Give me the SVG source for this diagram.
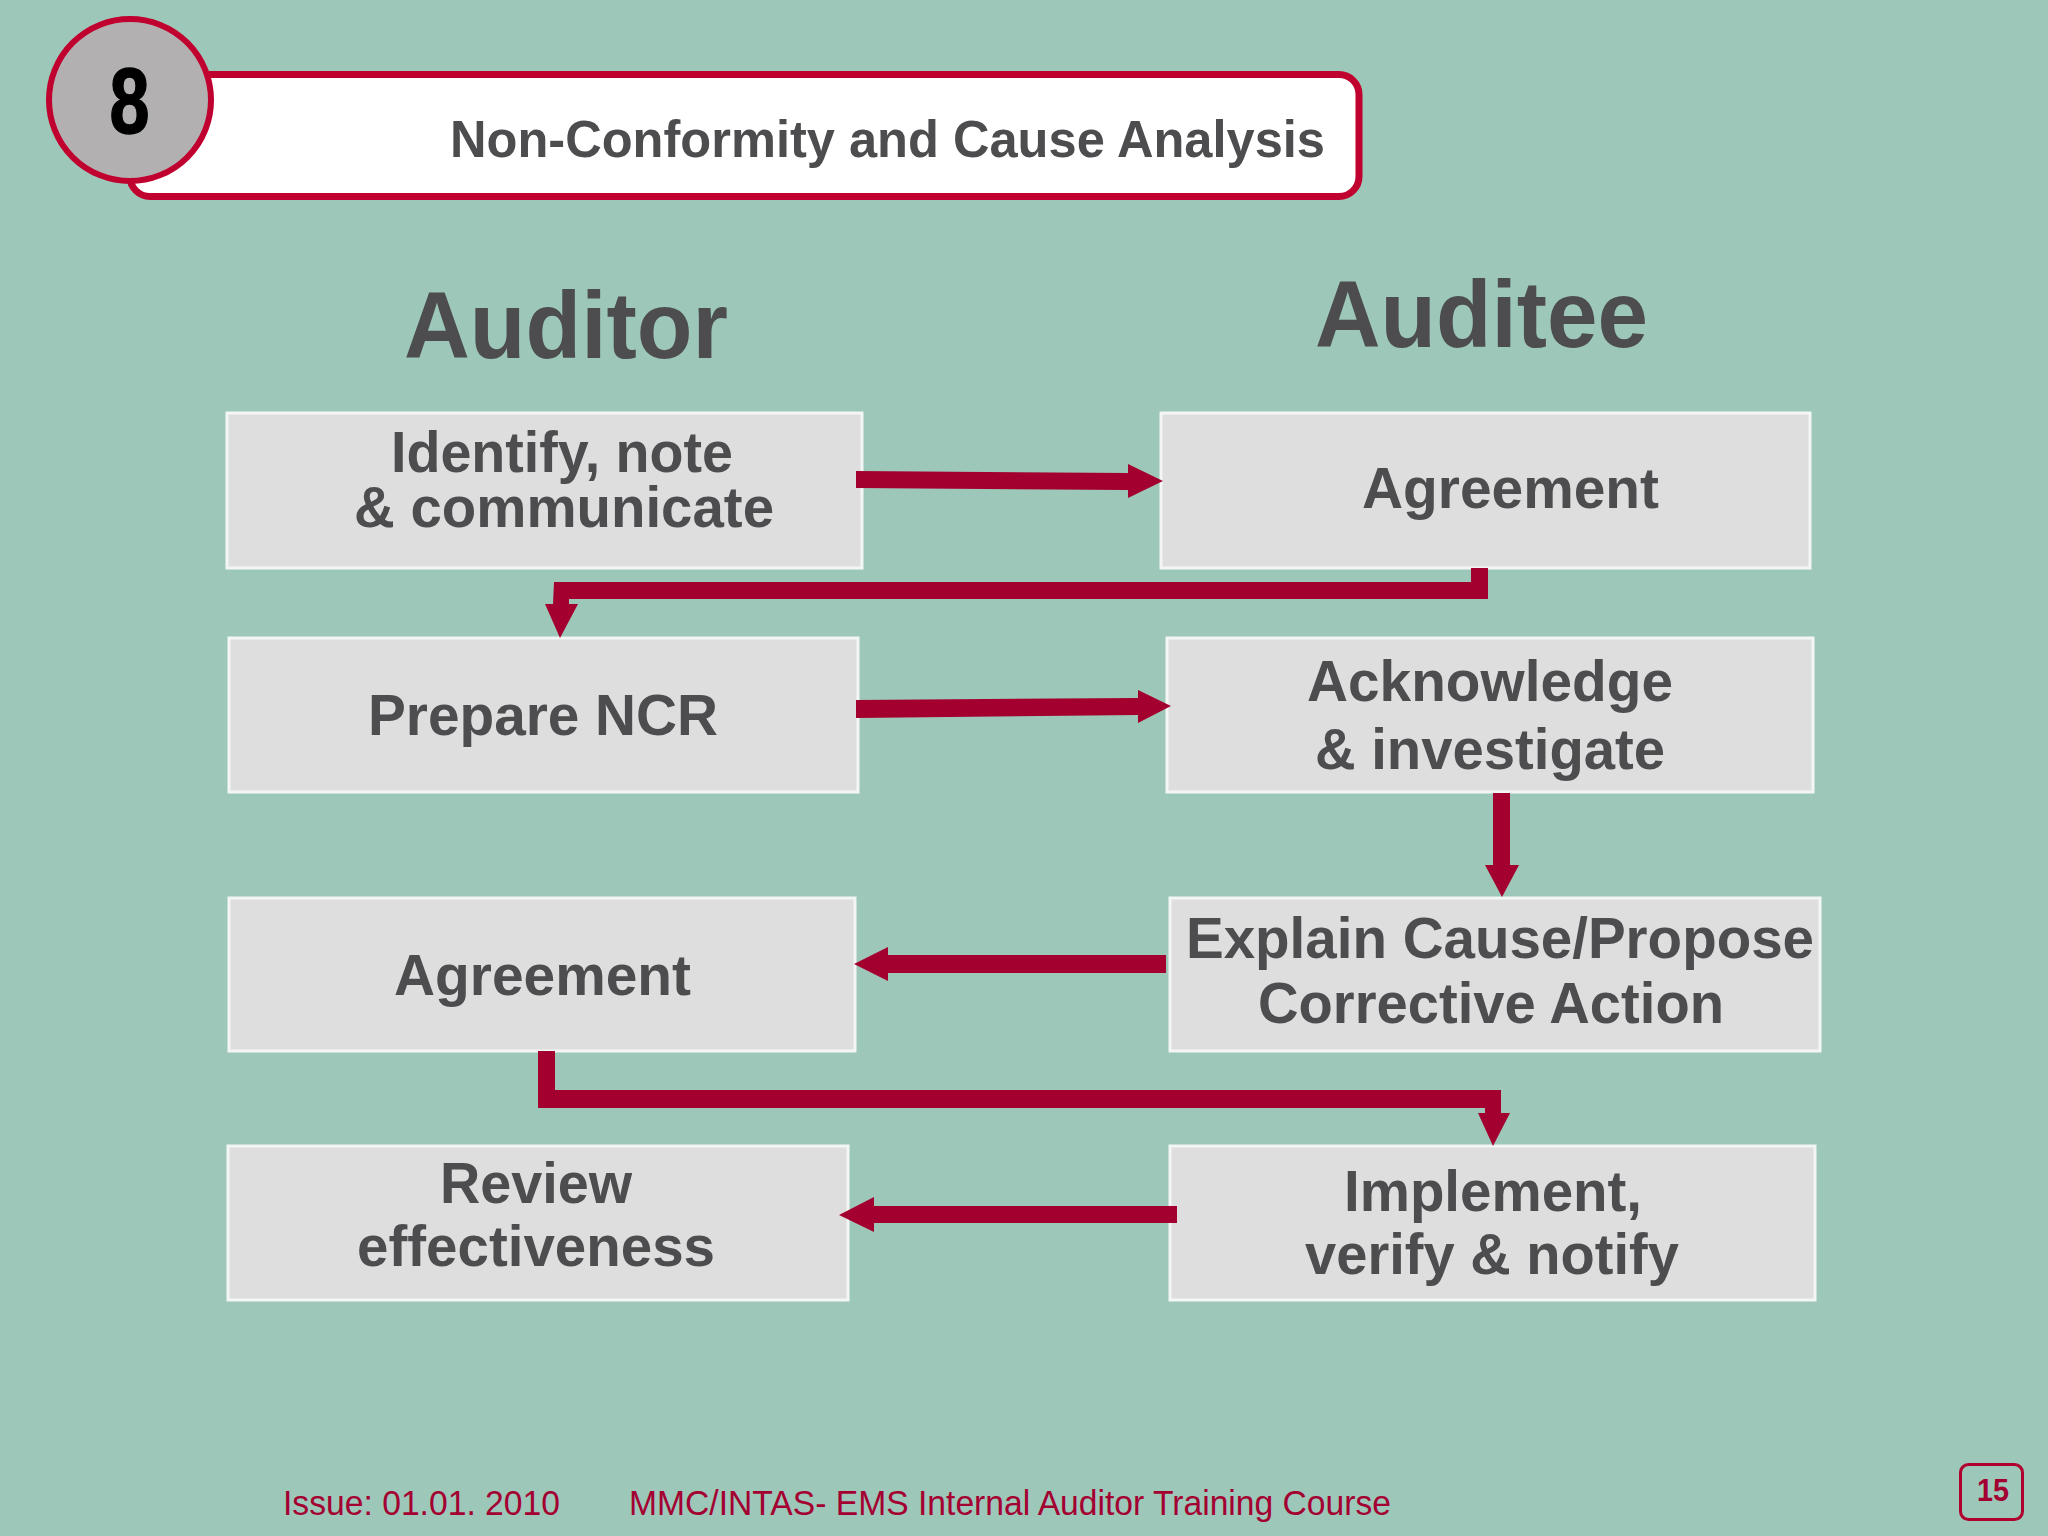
<svg xmlns="http://www.w3.org/2000/svg" width="2048" height="1536" viewBox="0 0 2048 1536">
<style>
text{font-family:"Liberation Sans",Arial,sans-serif;font-weight:700;fill:#4d4d4f}
.box{fill:#dededf;stroke:#f4f6f5;stroke-width:3}
.lb{font-size:58px}
.hd{font-size:94px}
.ft{font-size:34.500px;font-weight:400;fill:#a30031}
.ar{fill:#a3002f}
</style>
<rect width="2048" height="1536" fill="#9dc7b8"/>
<g id="banner">
<rect x="130" y="74.500" width="1229" height="122" rx="20" fill="#fff" stroke="#c0002f" stroke-width="7"/>
<text x="450" y="157" font-size="52" textLength="875" lengthAdjust="spacingAndGlyphs">Non-Conformity and Cause Analysis</text>
</g>
<g id="badge">
<circle cx="130" cy="100" r="81" fill="#b2b0b0" stroke="#c0002f" stroke-width="6"/>
<text x="109.500" y="133" font-size="93" textLength="40" lengthAdjust="spacingAndGlyphs" style="fill:#000;stroke:#000;stroke-width:1.500">8</text>
</g>
<g id="header-auditor"><text class="hd" x="404" y="358" textLength="324" lengthAdjust="spacingAndGlyphs">Auditor</text></g>
<g id="header-auditee"><text class="hd" x="1315" y="347" textLength="333" lengthAdjust="spacingAndGlyphs">Auditee</text></g>
<g id="n1"><rect class="box" x="227" y="413" width="635" height="155"/><text class="lb" x="391" y="472" textLength="342" lengthAdjust="spacingAndGlyphs">Identify, note</text><text class="lb" x="354" y="527" textLength="420" lengthAdjust="spacingAndGlyphs">&amp; communicate</text></g>
<g id="n2"><rect class="box" x="1161" y="413" width="649" height="155"/><text class="lb" x="1362" y="508" textLength="297" lengthAdjust="spacingAndGlyphs">Agreement</text></g>
<g id="n3"><rect class="box" x="229" y="638" width="629" height="154"/><text class="lb" x="368" y="735" textLength="350" lengthAdjust="spacingAndGlyphs">Prepare NCR</text></g>
<g id="n4"><rect class="box" x="1167" y="638" width="646" height="154"/><text class="lb" x="1307" y="701" textLength="366" lengthAdjust="spacingAndGlyphs">Acknowledge</text><text class="lb" x="1315" y="769" textLength="350" lengthAdjust="spacingAndGlyphs">&amp; investigate</text></g>
<g id="n5"><rect class="box" x="229" y="898" width="626" height="153"/><text class="lb" x="394" y="995" textLength="297" lengthAdjust="spacingAndGlyphs">Agreement</text></g>
<g id="n6"><rect class="box" x="1170" y="898" width="650" height="153"/><text class="lb" x="1186" y="958" textLength="628" lengthAdjust="spacingAndGlyphs">Explain Cause/Propose</text><text class="lb" x="1258" y="1023" textLength="466" lengthAdjust="spacingAndGlyphs">Corrective Action</text></g>
<g id="n7"><rect class="box" x="228" y="1146" width="620" height="154"/><text class="lb" x="440" y="1203" textLength="192" lengthAdjust="spacingAndGlyphs">Review</text><text class="lb" x="357" y="1266" textLength="358" lengthAdjust="spacingAndGlyphs">effectiveness</text></g>
<g id="n8"><rect class="box" x="1170" y="1146" width="645" height="154"/><text class="lb" x="1344" y="1211" textLength="298" lengthAdjust="spacingAndGlyphs">Implement,</text><text class="lb" x="1305" y="1274" textLength="374" lengthAdjust="spacingAndGlyphs">verify &amp; notify</text></g>
<g id="connectors">
<polygon class="ar" points="856,471 1128,473 1128,464 1163,481 1128,498 1128,490 856,488"/>
<polygon class="ar" points="1488,568 1488,599 569,599 569,604 578,604 560,638 545,604 553,604 554,582 1471,582 1471,568"/>
<polygon class="ar" points="856,700 1138,698 1138,690 1171,706 1138,723 1138,715 856,718"/>
<polygon class="ar" points="1493,793 1510,793 1510,865 1519,865 1502,897 1485,865 1493,865"/>
<polygon class="ar" points="1166,955 1166,973 888,973 888,981 854,964 888,947 888,955"/>
<polygon class="ar" points="538,1051 555,1051 555,1090 1501,1090 1501,1113 1510,1113 1493,1146 1478,1113 1485,1113 1485,1108 538,1108"/>
<polygon class="ar" points="1177,1206 1177,1223 874,1223 874,1232 839,1215 874,1197 874,1206"/>
</g>
<g id="footer">
<text class="ft" x="283" y="1515" textLength="277" lengthAdjust="spacingAndGlyphs">Issue: 01.01. 2010</text>
<text class="ft" x="629" y="1515" textLength="762" lengthAdjust="spacingAndGlyphs">MMC/INTAS- EMS Internal Auditor Training Course</text>
</g>
<g id="page">
<rect x="1960.500" y="1464.500" width="62" height="55" rx="8" fill="none" stroke="#b0002f" stroke-width="3"/>
<text x="1977" y="1501" font-size="31" textLength="32" lengthAdjust="spacingAndGlyphs" style="fill:#a30031">15</text>
</g>
</svg>
